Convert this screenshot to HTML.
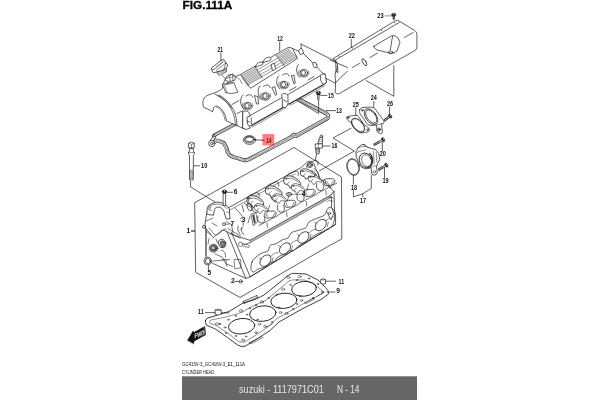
<!DOCTYPE html>
<html><head><meta charset="utf-8"><style>
html,body{margin:0;padding:0;background:#fff;width:600px;height:400px;overflow:hidden}
svg{position:absolute;left:0;top:0;display:block;will-change:transform}
svg text{font-family:"Liberation Sans",sans-serif}
</style></head><body>
<svg width="600" height="400" viewBox="0 0 600 400">
<!-- title -->
<text x="182.6" y="8.8" font-size="9.2" font-weight="bold" fill="#000" stroke="#000" stroke-width="0.25" textLength="49.6" lengthAdjust="spacingAndGlyphs" transform="translate(0,8.8) scale(1,1.1) translate(0,-8.8)">FIG.111A</text>

<g id="drawing" fill="none" stroke="#1c1c1c" stroke-width="0.7" stroke-linejoin="round" stroke-linecap="round">
<!-- BRACKET LINES -->
<path d="M301,44 L347.5,67.5 M301,44 L301.3,50.5"/>
<path d="M366.2,80.6 L393.8,96.3 L393.8,65.6"/>
<path d="M351,128.3 L333,138 L354.4,151 L319.5,170.8"/>
<path d="M195,202.5 L294,147.5 L341.5,177 L341.8,239 L330.5,245 L240,297.5 L196,272.5 Z"/>

<!-- PART 9 head gasket -->
<g>
<path fill="#fff" stroke-width="0.85" d="M205.5,320.4 Q206,318.6 208,318 L213,316.5 L222,313.6 L229,311.5 L243,303 L255,299.5 L264,295 L283.5,279.3 Q287,275.5 289.5,274.7 L292.5,273.3 L306,274 L318,280 L325.5,287.5 Q329,290.5 328.5,294 L321,299.5 L303,308.5 L289.5,316 L279,322 L270,330.5 L257.5,338.7 L245,346.3 Q241,347.2 237.5,345 L227.5,337.5 L215,328.8 L206.3,325 Q205,322.5 205.5,320.4 Z"/>
<path stroke-width="0.5" d="M209.5,322 Q209.5,320.3 211.5,319.8 L222.5,317.8 L234.6,314.6 L242.5,312.2 L249.2,307.9 L257,304.3 L266,300.3 L285,284.3 Q288,280.6 292,279.9 L304.5,280 L315,284.5 L322,290.5 Q323.5,292.2 322,293.5 L302,304.5 L277,318.5 L268,327 L256,335 L245.5,341.5 Q241.5,343 238.5,341.5 L229,334 L216.5,325.5 L210.5,323.5 Z"/>
<path d="M243.2,301.6 L256.8,295.5 M244.2,303.4 L257.6,297.3 M243.2,301.6 L244.2,303.4 M256.8,295.5 L257.6,297.3"/>
<ellipse cx="241.6" cy="326.2" rx="13.2" ry="7.7" transform="rotate(-6 241.6 326.2)" stroke-width="0.9"/>
<ellipse cx="262.8" cy="313.6" rx="13.2" ry="7.7" transform="rotate(-6 262.8 313.6)" stroke-width="0.9"/>
<ellipse cx="283.9" cy="300.8" rx="13.1" ry="7.6" transform="rotate(-6 283.9 300.8)" stroke-width="0.9"/>
<ellipse cx="304.0" cy="288.8" rx="12.4" ry="7.4" transform="rotate(-6 304.0 288.8)" stroke-width="0.9"/>
<g stroke-width="0.5">
<ellipse cx="240.8" cy="310.7" rx="1.6" ry="1.2"/>
<ellipse cx="225.0" cy="327.5" rx="0.9" ry="0.7"/>
<ellipse cx="259.4" cy="324.2" rx="1.3" ry="1.0"/>
<ellipse cx="256.0" cy="332.6" rx="1.3" ry="1.0"/>
<ellipse cx="243.0" cy="340.0" rx="1.5" ry="1.2"/>
<ellipse cx="265.0" cy="326.4" rx="1.4" ry="1.1"/>
<ellipse cx="235.6" cy="315.8" rx="0.8" ry="0.6"/>
<ellipse cx="247.0" cy="314.6" rx="0.8" ry="0.6"/>
<ellipse cx="256.0" cy="305.0" rx="0.8" ry="0.6"/>
<ellipse cx="249.8" cy="308.4" rx="0.8" ry="0.6"/>
<ellipse cx="228.4" cy="319.7" rx="0.8" ry="0.6"/>
<ellipse cx="235.8" cy="336.0" rx="0.8" ry="0.6"/>
<ellipse cx="262.0" cy="302.0" rx="1.6" ry="1.2"/>
<ellipse cx="283.0" cy="289.2" rx="1.6" ry="1.2"/>
<ellipse cx="277.0" cy="294.5" rx="0.8" ry="0.6"/>
<ellipse cx="268.5" cy="298.0" rx="0.8" ry="0.6"/>
<ellipse cx="290.5" cy="285.0" rx="0.8" ry="0.6"/>
<ellipse cx="280.5" cy="312.5" rx="1.3" ry="1.0"/>
<ellipse cx="286.5" cy="313.5" rx="1.4" ry="1.1"/>
<ellipse cx="301.5" cy="300.5" rx="1.3" ry="1.0"/>
<ellipse cx="297.0" cy="304.0" rx="0.8" ry="0.6"/>
<ellipse cx="257.5" cy="319.5" rx="0.8" ry="0.6"/>
<ellipse cx="279.0" cy="307.5" rx="0.8" ry="0.6"/>
<ellipse cx="300.0" cy="296.0" rx="0.8" ry="0.6"/>
<ellipse cx="318.0" cy="284.0" rx="0.8" ry="0.6"/>
<ellipse cx="297.0" cy="280.0" rx="0.8" ry="0.6"/>
<ellipse cx="309.0" cy="278.5" rx="0.8" ry="0.6"/>
<ellipse cx="220.0" cy="324.0" rx="0.8" ry="0.6"/>
<ellipse cx="226.0" cy="333.0" rx="0.8" ry="0.6"/>
<ellipse cx="246.0" cy="336.5" rx="0.8" ry="0.6"/>
<ellipse cx="272.0" cy="322.0" rx="0.8" ry="0.6"/>
<ellipse cx="293.0" cy="309.0" rx="0.8" ry="0.6"/>
<ellipse cx="313.0" cy="298.0" rx="0.8" ry="0.6"/>
<ellipse cx="322.5" cy="292.0" rx="1.2" ry="0.9"/>
<ellipse cx="288.3" cy="277.4" rx="1.8" ry="1.1"/>
<ellipse cx="299.5" cy="276.6" rx="1.8" ry="1.1"/>
<ellipse cx="217.2" cy="323.9" rx="1.9" ry="1.2"/>
<path d="M249.5,342.5 L261,336.8 Q262.8,336.5 262.3,338 L251,343.8 Q249,344.2 249.5,342.5 Z M305,302.6 L313.5,298 Q315,297.8 314.6,299 L306.2,303.6 Q304.6,304 305,302.6 Z M266.5,327 L272.5,323.8 M317,296.5 L324,292.5"/>
</g>
<!-- dowels -->
<path fill="#fff" d="M215.3,310 Q218.2,308.3 221.2,310 L221.2,314.3 Q218.2,316 215.3,314.3 Z"/>
<path d="M215.3,310 Q218.2,311.6 221.2,310" stroke-width="0.5"/>
<path d="M205.5,312.6 L215.2,312.6 M221.3,312.9 L229,312.9"/>
<path fill="#fff" d="M321,279.5 Q323.2,278 325.5,279.5 L325.5,283.5 Q323.2,285 321,283.5 Z"/>
<path d="M321,279.5 Q323.2,281 325.5,279.5" stroke-width="0.5"/>
<path d="M325.5,281.2 L335.5,281.2 M327,292 L335,292"/>
</g>

<!-- FWD arrow -->
<path fill="#111" stroke="#111" stroke-width="0.3" d="M187.4,340.3 L193,331.1 L194.1,332.3 L204.9,326.2 L205.8,334.7 L194.2,341.3 L193.6,343.8 Z"/>
<path d="M203.9,327.3 L204.6,333.9" stroke="#ddd" stroke-width="0.5"/>
<text x="0" y="0" font-size="6.6" font-weight="bold" fill="#fff" stroke="none" transform="translate(194.6,338.6) skewY(-24)" textLength="9.6" lengthAdjust="spacingAndGlyphs">FWD</text>

<!-- PART 10 bolt -->
<g>
<path fill="#fff" d="M188.8,143 Q191.5,141 194.2,143 L194.2,147.5 Q191.5,149 188.8,147.5 Z"/>
<path d="M188.8,143.6 Q191.5,145.2 194.2,143.6 M191.5,145 L191.5,148.3" stroke-width="0.5"/>
<path fill="#fff" d="M189.5,148.5 L193.4,148.5 L193.4,151.3 L194.2,152 L194.2,154.6 L193.4,155.3 L193.2,180 L189.6,180 L189.5,155.3 L188.6,154.6 L188.6,152 L189.5,151.3 Z"/>
<path d="M188.6,152.2 Q191.5,153.6 194.2,152.2" stroke-width="0.5"/>
<path stroke-width="0.4" d="M189.6,170.5 L193.2,170 M189.6,171.7 L193.2,171.2 M189.6,172.9 L193.2,172.4 M189.6,174.1 L193.2,173.6 M189.6,175.3 L193.2,174.8 M189.6,176.5 L193.2,176 M189.6,177.7 L193.2,177.2 M189.6,178.9 L193.2,178.4"/>
<path d="M190.5,181.5 L190.5,186.8 L214.5,201.8"/>
<path d="M193.5,165.8 L199.5,165.8"/>
</g>

<!-- CYL START -->
<g>
<path fill="#fff" d="M206,257 L206,230 L205,224.5 L206.5,214 L209,206.5 L214,203 L220,203 L225,206 L228,208 L294.6,171.1 L301.3,167.5 L306.3,162.5 C309,160.5 312,161 314,164 L316.3,170 L318.8,175 L320,178.8 L332.5,190 Q334.5,191.5 334,193 L334.5,210 L335.6,215 L335.5,224.5 L250.2,276.8 L245.7,278.3 L236,274 L224,268.5 L213,263.5 Z"/>
<path d="M250,240.3 L331,195 L334,191.3" stroke-width="0.8"/>
<path d="M250.6,242.4 L331.4,197.2" stroke-width="0.6"/>
<path d="M250.3,241.4 L331.2,196.1" stroke-width="0.35" stroke-dasharray="0.5 0.6"/>
<path stroke-width="0.5" d="M229,210.5 L295,173.8"/>
<path d="M250,240.3 L238,236.5 L230,233.5 M250.6,242.4 L244,245"/>
<path d="M331.4,197.2 L331.6,211"/>
<path d="M226.7,231 L245.7,278.3 M231.5,232.5 L250.2,276.8"/>
<path d="M250.2,276.8 L335.5,224.5"/>
<path fill="#fff" d="M252.0,262.0 C252.8,259.9 254.3,258.5 256.0,257.0 C257.7,255.5 260.0,254.0 262.0,253.0 C264.0,252.0 266.7,252.2 268.0,251.0 C269.3,249.8 268.8,246.7 270.0,245.5 C271.2,244.3 273.5,244.6 275.0,244.0 C276.5,243.4 277.7,242.8 279.0,242.0 C280.3,241.2 281.5,240.2 283.0,239.5 C284.5,238.8 286.7,239.1 288.0,238.0 C289.3,236.9 289.7,234.2 291.0,233.0 C292.3,231.8 294.3,231.6 296.0,231.0 C297.7,230.4 299.3,230.1 301.0,229.5 C302.7,228.9 304.7,228.8 306.0,227.5 C307.3,226.2 307.7,223.3 309.0,222.0 C310.3,220.7 312.3,220.2 314.0,219.5 C315.7,218.8 317.3,218.2 319.0,217.5 C320.7,216.8 322.7,216.6 324.0,215.5 C325.3,214.4 325.8,212.2 327.0,211.0 C328.2,209.8 329.8,208.6 331.0,208.5 C332.2,208.4 333.4,208.8 334.0,210.5 C334.6,212.2 334.8,216.4 334.5,219.0 C334.2,221.6 333.2,224.3 332.0,226.0 C330.8,227.7 329.2,228.0 327.5,229.0 C325.8,230.0 323.9,231.1 322.0,232.0 C320.1,232.9 317.8,233.5 316.0,234.5 C314.2,235.5 312.7,236.8 311.0,238.0 C309.3,239.2 307.8,240.8 306.0,242.0 C304.2,243.2 302.0,243.7 300.0,245.0 C298.0,246.3 295.8,249.0 294.0,250.0 C292.2,251.0 290.5,250.3 289.0,251.0 C287.5,251.7 286.8,253.0 285.0,254.0 C283.2,255.0 279.7,255.8 278.0,257.0 C276.3,258.2 276.3,260.0 275.0,261.0 C273.7,262.0 271.7,262.0 270.0,263.0 C268.3,264.0 267.0,266.0 265.0,267.0 C263.0,268.0 259.8,268.2 258.0,269.0 C256.2,269.8 255.2,271.9 254.0,272.0 C252.8,272.1 251.3,271.2 251.0,269.5 C250.7,267.8 251.2,264.1 252.0,262.0 Z"/>
<ellipse cx="265.5" cy="260.6" rx="6.6" ry="4.6" transform="rotate(-48 265.5 260.6)"/>
<path stroke-width="0.5" d="M271.0,256.1 q3,-3.5 7,-3.8 M259.0,257.6 l2.5,1.8 M272.0,262.1 l1,-4.5"/>
<ellipse cx="285.0" cy="248.5" rx="6.6" ry="4.6" transform="rotate(-48 285.0 248.5)"/>
<path stroke-width="0.5" d="M290.5,244.0 q3,-3.5 7,-3.8 M278.5,245.5 l2.5,1.8 M291.5,250.0 l1,-4.5"/>
<ellipse cx="303.5" cy="237.4" rx="6.6" ry="4.6" transform="rotate(-48 303.5 237.4)"/>
<path stroke-width="0.5" d="M309.0,232.9 q3,-3.5 7,-3.8 M297.0,234.4 l2.5,1.8 M310.0,238.9 l1,-4.5"/>
<ellipse cx="320.8" cy="225.0" rx="6.6" ry="4.6" transform="rotate(-48 320.8 225.0)"/>
<path stroke-width="0.5" d="M326.3,220.5 q3,-3.5 7,-3.8 M314.3,222.0 l2.5,1.8 M327.3,226.5 l1,-4.5"/>
<path d="M326.5,210.5 Q329,205.5 332,208 L333.8,213.5 L331,219.5 Z" fill="#fff"/>
<circle cx="329.6" cy="213.4" r="1.1"/>
<path stroke-width="0.5" d="M327,202 Q330,199 333,201.5 M329,197.5 Q331.5,196 333.5,198"/>
<path stroke-width="0.7" d="M265.0,216.0 Q263.5,212.5 267.0,211.2 L273.5,211.0 Q276.8,211.4 276.0,214.6 Q275.0,217.6 271.0,217.8 L267.0,218.2 Z"/>
<path stroke-width="0.55" d="M266.5,213.5 Q266.0,216.0 268.0,216.6 M274.5,213.2 Q274.2,215.6 272.8,216.2"/>
<ellipse cx="254.5" cy="208.0" rx="2.8" ry="5.2" transform="rotate(-28 254.5 208.0)" stroke-width="0.7"/>
<path stroke-width="0.7" d="M258.0,216.0 Q256.5,222.0 261.0,223.0 Q264.5,223.5 265.0,219.0 L264.0,216.0"/>
<path stroke-width="0.6" d="M259.0,225.5 L278.0,215.5 M267.0,223.0 L267.5,227.5 M250.0,216.0 L248.0,223.0"/>
<path stroke-width="0.7" d="M248.0,200.0 Q247.0,195.0 252.0,194.5 L257.0,192.5 Q260.0,193.0 259.0,197.0"/>
<path stroke-width="0.7" d="M284.6,205.2 Q283.1,201.7 286.6,200.4 L293.1,200.2 Q296.4,200.6 295.6,203.8 Q294.6,206.8 290.6,207.0 L286.6,207.4 Z"/>
<path stroke-width="0.55" d="M286.1,202.7 Q285.6,205.2 287.6,205.8 M294.1,202.4 Q293.8,204.8 292.4,205.4"/>
<ellipse cx="274.1" cy="197.2" rx="2.8" ry="5.2" transform="rotate(-28 274.1 197.2)" stroke-width="0.7"/>
<path stroke-width="0.7" d="M277.6,205.2 Q276.1,211.2 280.6,212.2 Q284.1,212.7 284.6,208.2 L283.6,205.2"/>
<path stroke-width="0.6" d="M278.6,214.7 L297.6,204.7 M286.6,212.2 L287.1,216.7 M269.6,205.2 L267.6,212.2"/>
<path stroke-width="0.7" d="M267.6,189.2 Q266.6,184.2 271.6,183.7 L276.6,181.7 Q279.6,182.2 278.6,186.2"/>
<path stroke-width="0.7" d="M304.2,194.4 Q302.7,190.9 306.2,189.6 L312.7,189.4 Q316.0,189.8 315.2,193.0 Q314.2,196.0 310.2,196.2 L306.2,196.6 Z"/>
<path stroke-width="0.55" d="M305.7,191.9 Q305.2,194.4 307.2,195.0 M313.7,191.6 Q313.4,194.0 312.0,194.6"/>
<ellipse cx="293.7" cy="186.4" rx="2.8" ry="5.2" transform="rotate(-28 293.7 186.4)" stroke-width="0.7"/>
<path stroke-width="0.7" d="M297.2,194.4 Q295.7,200.4 300.2,201.4 Q303.7,201.9 304.2,197.4 L303.2,194.4"/>
<path stroke-width="0.6" d="M298.2,203.9 L317.2,193.9 M306.2,201.4 L306.7,205.9 M289.2,194.4 L287.2,201.4"/>
<path stroke-width="0.7" d="M287.2,178.4 Q286.2,173.4 291.2,172.9 L296.2,170.9 Q299.2,171.4 298.2,175.4"/>
<path stroke-width="0.7" d="M323.8,183.6 Q322.3,180.1 325.8,178.8 L332.3,178.6 Q335.6,179.0 334.8,182.2 Q333.8,185.2 329.8,185.4 L325.8,185.8 Z"/>
<path stroke-width="0.55" d="M325.3,181.1 Q324.8,183.6 326.8,184.2 M333.3,180.8 Q333.0,183.2 331.6,183.8"/>
<ellipse cx="313.3" cy="175.6" rx="2.8" ry="5.2" transform="rotate(-28 313.3 175.6)" stroke-width="0.7"/>
<path stroke-width="0.7" d="M316.8,183.6 Q315.3,189.6 319.8,190.6 Q323.3,191.1 323.8,186.6 L322.8,183.6"/>
<path stroke-width="0.6" d="M317.8,193.1 L336.8,183.1 M325.8,190.6 L326.3,195.1 M308.8,183.6 L306.8,190.6"/>
<path stroke-width="0.7" d="M306.8,167.6 Q305.8,162.6 310.8,162.1 L315.8,160.1 Q318.8,160.6 317.8,164.6"/>
<path fill="#fff" stroke-width="0.6" d="M251.3,214 L255.8,212.5 L257.5,222 L253.5,225.5 Z"/>
<path fill="#444" stroke="none" d="M252.2,214.8 L254.2,214.2 L255.8,222.5 L254,223.8 Z"/>
<path fill="#fff" stroke-width="0.80" d="M247.2,198.4 Q247.8,196.4 249.7,195.8 Q253.2,194.8 257.2,196.8 L262.0,200.2 Q264.4,202.6 263.5,205.0 L259.2,204.2 Q256.0,203.2 255.4,207.0 L253.2,207.8 Q252.8,204.6 249.6,204.0 L247.8,203.6 Q246.3,201.0 247.2,198.4 Z"/>
<path stroke-width="0.55" d="M249.4,198.6 Q253.2,196.8 257.2,199.0 L261.7,202.0 M250.2,204.0 L252.7,201.4"/>
<circle cx="249.2" cy="198.0" r="0.9" stroke-width="0.45"/>
<path fill="#fff" stroke-width="0.80" d="M265.6,188.6 Q266.2,186.6 268.1,186.0 Q271.6,185.0 275.6,187.0 L280.4,190.4 Q282.8,192.8 281.9,195.2 L277.6,194.4 Q274.4,193.4 273.8,197.2 L271.6,198.0 Q271.2,194.8 268.0,194.2 L266.2,193.8 Q264.7,191.2 265.6,188.6 Z"/>
<path stroke-width="0.55" d="M267.8,188.8 Q271.6,187.0 275.6,189.2 L280.1,192.2 M268.6,194.2 L271.1,191.6"/>
<circle cx="267.6" cy="188.2" r="0.9" stroke-width="0.45"/>
<path fill="#fff" stroke-width="0.80" d="M284.0,178.7 Q284.6,176.7 286.5,176.1 Q290.0,175.1 294.0,177.1 L298.8,180.5 Q301.2,182.9 300.3,185.3 L296.0,184.5 Q292.8,183.5 292.2,187.3 L290.0,188.1 Q289.6,184.9 286.4,184.3 L284.6,183.9 Q283.1,181.3 284.0,178.7 Z"/>
<path stroke-width="0.55" d="M286.2,178.9 Q290.0,177.1 294.0,179.3 L298.5,182.3 M287.0,184.3 L289.5,181.7"/>
<circle cx="286.0" cy="178.3" r="0.9" stroke-width="0.45"/>
<path fill="#fff" stroke-width="0.55" d="M254.5,206.0 Q255.0,204.4 256.5,203.9 Q259.3,203.1 262.5,204.7 L266.3,207.4 Q268.3,209.4 267.5,211.3 L264.1,210.6 Q261.5,209.8 261.1,212.9 L259.3,213.5 Q259.0,211.0 256.4,210.5 L255.0,210.2 Q253.8,208.1 254.5,206.0 Z"/>
<path stroke-width="0.55" d="M256.3,206.2 Q259.3,204.7 262.5,206.5 L266.1,208.9 M256.9,210.5 L258.9,208.4"/>
<circle cx="256.1" cy="205.7" r="0.7" stroke-width="0.45"/>
<path fill="#fff" stroke-width="0.55" d="M273.0,196.0 Q273.5,194.4 275.0,193.9 Q277.8,193.1 281.0,194.7 L284.8,197.4 Q286.8,199.4 286.0,201.3 L282.6,200.6 Q280.0,199.8 279.6,202.9 L277.8,203.5 Q277.5,201.0 274.9,200.5 L273.5,200.2 Q272.3,198.1 273.0,196.0 Z"/>
<path stroke-width="0.55" d="M274.8,196.2 Q277.8,194.7 281.0,196.5 L284.6,198.9 M275.4,200.5 L277.4,198.4"/>
<circle cx="274.6" cy="195.7" r="0.7" stroke-width="0.45"/>
<path fill="#fff" stroke-width="0.55" d="M291.5,186.0 Q292.0,184.4 293.5,183.9 Q296.3,183.1 299.5,184.7 L303.3,187.4 Q305.3,189.4 304.5,191.3 L301.1,190.6 Q298.5,189.8 298.1,192.9 L296.3,193.5 Q296.0,191.0 293.4,190.5 L292.0,190.2 Q290.8,188.1 291.5,186.0 Z"/>
<path stroke-width="0.55" d="M293.3,186.2 Q296.3,184.7 299.5,186.5 L303.1,188.9 M293.9,190.5 L295.9,188.4"/>
<circle cx="293.1" cy="185.7" r="0.7" stroke-width="0.45"/>
<path fill="#fff" stroke-width="0.55" d="M308.5,177.0 Q309.0,175.4 310.5,174.9 Q313.3,174.1 316.5,175.7 L320.3,178.4 Q322.3,180.4 321.5,182.3 L318.1,181.6 Q315.5,180.8 315.1,183.9 L313.3,184.5 Q313.0,182.0 310.4,181.5 L309.0,181.2 Q307.8,179.1 308.5,177.0 Z"/>
<path stroke-width="0.55" d="M310.3,177.2 Q313.3,175.7 316.5,177.5 L320.1,179.9 M310.9,181.5 L312.9,179.4"/>
<circle cx="310.1" cy="176.7" r="0.7" stroke-width="0.45"/>
<path fill="#fff" stroke-width="0.75" d="M206.8,213.8 L207.3,207.5 Q209,204.3 212,203.6 Q215,202 218,202.1 Q222,202.6 224.8,204.3 Q228.2,206.4 229.4,209 L230,218.8 L226.3,219 L224.9,215 Q224.3,210.6 222.5,209.1 Q220.5,207 218.8,207 Q216.5,207 215.6,207.8 Q214.4,209.2 214.1,211.4 L213.5,215.2 L210.4,214.8 Z"/>
<path stroke-width="0.5" d="M208.8,206.6 Q213.5,203.6 218.8,204.1 Q223.8,205 227.2,208.6 M208.4,209.5 L211.5,210.5 M226.5,212 L229.5,212.5"/>
<circle cx="209.6" cy="207.8" r="1" stroke-width="0.45"/>
<path fill="#fff" stroke-width="0.75" d="M300.6,171.2 Q301.1,169.5 302.7,169.0 Q305.7,168.1 309.1,169.8 L313.2,172.7 Q315.2,174.8 314.5,176.8 L310.8,176.1 Q308.1,175.3 307.6,178.5 L305.7,179.2 Q305.4,176.5 302.6,176.0 L301.1,175.6 Q299.8,173.4 300.6,171.2 Z"/>
<path stroke-width="0.55" d="M302.5,171.4 Q305.7,169.8 309.1,171.7 L312.9,174.3 M303.2,176.0 L305.3,173.8"/>
<circle cx="302.3" cy="170.9" r="0.8" stroke-width="0.45"/>
<circle cx="310" cy="165" r="2.6" fill="#fff"/><circle cx="310" cy="165" r="1.4"/>
<path stroke-width="0.6" d="M314,168.5 L318,172.5 L319,178.5 M321,180 Q325,179 327.5,182.5 L331,188"/>
<path stroke-width="0.65" d="M235,208.2 L238.2,211.2 L242.6,216.4 L240.6,219 M242,205 L243.8,212 M244.2,203.2 L250,207 M248,197 L249,203 M238,226 Q236.4,231 240,234.2 M241.6,228 Q240.6,232 243.6,234.6"/>
<ellipse cx="249.6" cy="207.2" rx="2.2" ry="4" transform="rotate(-25 249.6 207.2)" stroke-width="0.65"/>
<path stroke-width="0.6" d="M205.5,228 L213,237 M206,231 L211,235 M206,229 L206,256 M209,228 C212,231 213.5,234.5 215,235 C217,235.5 219,233 220,233 L223,230 L226,229 M213,238 L222,230 M206,221 L213,218 M212,223 L217,226 M223,230 L240,238 M228,228.5 L240.5,236"/>
<path stroke-width="0.6" d="M215,254 L222,257 L226,264 L233,266.5 M221,250.5 C223,250 226,252 225.5,257 M226,221.5 L231.5,224.5 L233,233 M209,238.5 L208,244 M216,239 L217.5,243"/>
<circle cx="204" cy="226.8" r="1.5" fill="#fff" stroke-width="0.8"/>
<circle cx="240.5" cy="244.3" r="2.2" stroke-width="0.55"/><path stroke-width="0.5" d="M243,243.5 L249.5,245.5 L249,247.5 L243.5,246.5"/>
<path stroke-width="0.55" d="M234.5,259.5 L240.5,259.5 L241,268 L235,268.5 Z M222.5,259.5 L226,259.5 L226.5,266"/>
<ellipse cx="213.6" cy="248.2" rx="4.2" ry="4" fill="#fff" stroke-width="0.7"/>
<ellipse cx="213.6" cy="248.2" rx="3.3" ry="3.1" fill="#555" stroke-width="0.3"/>
<ellipse cx="213.2" cy="247.8" rx="1.7" ry="1.6" fill="#bbb" stroke="none"/>
<ellipse cx="222.2" cy="243.5" rx="3.6" ry="4.4" transform="rotate(-20 222.2 243.5)" fill="#fff" stroke-width="0.7"/>
<ellipse cx="222.6" cy="243.9" rx="2.5" ry="3.3" transform="rotate(-20 222.6 243.9)" fill="#666" stroke-width="0.3"/>
<path stroke="#ddd" stroke-width="0.4" d="M221,241.5 L224.5,245 M221.3,243.5 L223.5,246"/>
<circle cx="224" cy="224.2" r="1.5"/><path d="M225.5,224.2 L229.4,224.2" stroke-width="0.5"/>
<ellipse cx="289" cy="194.3" rx="2.6" ry="1.9" fill="#fff"/><path d="M289,192.4 L289,196.2 M286.4,194.3 L291.6,194.3" stroke-width="0.4"/>
<path d="M291.6,194.3 L301.5,194.3" stroke-width="0.5"/>
<path stroke-width="0.6" d="M241,221 L243.5,223 L243,226 M242.5,227.5 L240,229.5"/>
<path d="M229.5,259.5 L212.8,261.1" stroke-width="0.6"/>
<path d="M191.4,231 L194.6,231"/>
</g>
<!-- CYL END -->
<!-- bolt 6 -->
<g>
<path fill="#222" stroke-width="0.4" d="M222.3,191.3 Q222.5,189.7 224.5,189.7 Q226.6,189.7 226.7,191.3 Q226.5,193.2 225.6,193.8 L223.4,193.8 Q222.4,193.2 222.3,191.3 Z"/>
<path fill="#fff" stroke="none" d="M223.8,190.2 L225.2,190.2 L224.5,192.2 Z"/>
<path fill="#fff" d="M223.5,193.5 L225.6,193.5 L225.6,205.5 L223.5,205.5 Z"/>
<path d="M226.6,192.3 L232.5,192.3"/>
</g>
<!-- seal 5 -->
<ellipse cx="207.6" cy="261" rx="3.6" ry="3.9" fill="#fff"/>
<ellipse cx="207.9" cy="261" rx="2.4" ry="2.7"/>
<path d="M208.4,265 L208.4,270"/>
<!-- part 2 -->
<path d="M235,281.5 L238.5,281.5"/>
<circle cx="240.7" cy="281.5" r="1.7" fill="#fff"/>
<path d="M239.5,281.5 L242,281.5" stroke-width="0.5"/>
<path d="M191.4,231 L194.6,231"/>

<!-- PART 13 gasket (drawn first, behind cover) -->
<g>
<path d="M213.8,135.6 L297,91.2" stroke="#222" stroke-width="3.4"/>
<path d="M213.8,135.6 L297,91.2" stroke="#fff" stroke-width="2.1"/>
<path d="M213.8,135.6 L297,91.2" stroke="#555" stroke-width="2.1" stroke-dasharray="0.5 0.65" stroke-linecap="butt"/>
<path d="M300.5,100.3 L326.3,113.4 Q329.5,115.8 327.6,118.2 L296,136 L293.6,134.8 L291.4,137 L259.1,154 L249,159.3 Q246.5,160.6 243.5,160 L239.2,158.6 Q232,157 229.6,155 L227.6,152 Q226.3,146 223.6,142.8 Q220,140.9 215.5,140.4" stroke="#222" stroke-width="3.9"/>
<path d="M300.5,100.3 L326.3,113.4 Q329.5,115.8 327.6,118.2 L296,136 L293.6,134.8 L291.4,137 L259.1,154 L249,159.3 Q246.5,160.6 243.5,160 L239.2,158.6 Q232,157 229.6,155 L227.6,152 Q226.3,146 223.6,142.8 Q220,140.9 215.5,140.4" stroke="#fff" stroke-width="2.6"/>
<path d="M300.5,100.3 L326.3,113.4 Q329.5,115.8 327.6,118.2 L296,136 L293.6,134.8 L291.4,137 L259.1,154 L249,159.3 Q246.5,160.6 243.5,160 L239.2,158.6 Q232,157 229.6,155 L227.6,152 Q226.3,146 223.6,142.8 Q220,140.9 215.5,140.4" stroke="#555" stroke-width="2.6" stroke-dasharray="0.5 0.65" stroke-linecap="butt"/>
<circle cx="211.8" cy="143.5" r="3.2" fill="#fff"/>
<circle cx="211.8" cy="143.5" r="1.3"/>
<path d="M210.5,140.5 L214.5,134 M213.5,141.5 L216,136"/>
</g>

<!-- PART 14 o-ring -->
<ellipse cx="249.5" cy="140" rx="6.2" ry="4.4" fill="#fff"/>
<ellipse cx="249.5" cy="139.6" rx="5" ry="3.3"/>
<ellipse cx="249.5" cy="139.4" rx="4" ry="2.4"/>
<path d="M255.7,140 L262.5,140"/>

<!-- PART 21 filler cap -->
<path fill="#fff" stroke-width="0.6" d="M216.8,71.6 L226.3,68.2 L226.5,71.8 L219.2,75.6 Q217.3,74.8 216.8,71.6 Z"/>
<path stroke="#444" stroke-width="0.4" d="M217.5,72.4 L226.3,69.2 M217.9,73.4 L226.4,70.2 M218.4,74.4 L226.4,71.2"/>
<path fill="#fff" stroke-width="0.75" d="M211.9,67.7 L220.3,60.9 Q222,59.4 223.8,59.7 L227.4,64.6 L227.5,66.5 L223.6,70 L213.9,72.7 Q212.4,72.3 212.1,71 Z"/>
<path stroke-width="0.55" d="M214.4,69.2 L223.4,61.8 M216.4,70.3 L225.6,63.1 M212.2,69.8 L214.3,69.3 M223.6,70 L225.6,63.1"/>
<path stroke-width="0.4" stroke-dasharray="0.5 0.7" d="M216,67.2 L222.6,61.6"/>
<path d="M222.3,75.4 L227.4,80.8" stroke-dasharray="1 0.8"/>
<path d="M220.9,52.8 L220.9,60.6"/>

<!-- PART 15 bolt -->
<path fill="#222" stroke-width="0.4" d="M316.2,92.5 Q316.4,90.9 318.4,90.9 Q320.5,90.9 320.6,92.5 Q320.4,94.4 319.5,95 L317.3,95 Q316.3,94.4 316.2,92.5 Z"/>
<path fill="#fff" stroke="none" d="M317.7,91.4 L319.1,91.4 L318.4,93.4 Z"/>
<path d="M317.6,94.6 L317.8,99.8 L318.8,99.8 L319.3,94.6"/>
<path d="M318.6,100 L318.6,113.6 L287.3,94.6"/>
<path d="M320.7,95.4 L327,95.4"/>
<path d="M326.3,110.6 L335.6,110.6"/>

<!-- PART 16 spark plug -->
<g fill="#fff">
<ellipse cx="321.4" cy="136.2" rx="1.3" ry="1.2"/>
<path d="M319.8,137.6 L322.6,137.4 L322.4,143.8 L318.3,144 Z"/>
<path d="M315.5,144 L322.4,143.8 L322.4,148 L315.8,148.4 Z"/>
<path d="M316,148.3 L319.4,148.2 L319.2,153.6 L316.6,153.8 Z"/>
</g>
<path stroke-width="0.4" d="M318.6,139.5 L322.5,139.3 M318.5,141.5 L322.4,141.3 M316,149.5 L319.3,149.4 M316.1,150.7 L319.3,150.6 M316.2,151.9 L319.3,151.8 M318.3,144 L318.4,148.2"/>
<path d="M316.6,153.9 L315.3,160"/>
<path d="M322.4,146 L330.2,146"/>

<!-- PART 12 head cover -->
<path fill="#fff" d="M203.5,106.8 L202.8,104 C202.6,99 205,96 210,94.4 C214,93 218,92 220.5,90 L222.8,88 L222.8,84.3 L225.5,79 L228,75.5 L232.5,74.4 L235.4,76.5 L240.5,74.5 L288,47.6 Q290.5,47 292.5,48.5 L298.5,51 L301,50 L303.5,53.5 L312.5,62.5 L322.5,73 L325,73.8 L326.3,82.8 L244.5,129 L237,125.5 L226.5,121 C226,115 222,108 217,106 C215,106 213.8,107 213.5,108.5 L212.5,112 L210.5,110.5 Z"/>
<!-- dome thick arc -->
<path d="M219,95 C226,99 231,104 234.5,112 C236,116 237,121 237,125.5" stroke-width="0.7"/>
<path d="M217.6,95.6 C224.5,99.6 229.4,104.6 232.8,112.4 C234.3,116.4 235.3,121 235.4,125" stroke-width="0.6"/>
<path d="M215,94 C222,97.5 228,102 231.5,108"/>
<!-- journal bearing double -->
<path d="M216.5,107.2 C220.5,108.5 224,113 225,120.3" stroke-width="0.5"/>
<!-- ridge -->
<path d="M240.5,74.5 L250.5,88.3 L297.5,58.5 L292.5,48.5"/>
<path stroke-width="0.45" d="M241.3,75.9 L255.7,67.8 M276.7,55.9 L289.1,48.9 M242.0,77.1 L256.5,69.0 M277.6,57.1 L290.1,50.0 M242.7,78.3 L257.2,70.2 M278.5,58.2 L291.0,51.1 M243.4,79.5 L258.0,71.3 M279.4,59.3 L292.0,52.2 M244.1,80.7 L258.8,72.5 M280.3,60.4 L292.9,53.3 M244.8,81.9 L259.6,73.7 M281.1,61.5 L293.9,54.4 M245.5,83.1 L260.3,74.8 M282.0,62.6 L294.8,55.4 M246.2,84.3 L261.1,76.0 M282.9,63.8 L295.8,56.5 M246.9,85.4 L261.8,77.0 M283.7,64.8 L296.6,57.5 M257.1,69.9 L278.3,57.9 M258.6,72.3 L280.1,60.2 M260.2,74.6 L281.8,62.4 M261.6,76.7 L283.4,64.4 M254.8,66.4 L262.5,78.1 M275.6,54.6 L284.5,65.8"/>
<!-- humps on ridge -->
<path fill="#fff" d="M255.5,66.8 Q256,63.5 258.5,62.6 L261.5,61.9 Q263.5,62.5 262.8,64.2 Z"/>
<path fill="#fff" d="M263,62.3 Q263.8,58.6 266.5,57.7 L269.5,57 Q271.5,57.6 270.8,59.3 L270.2,60.2 Z"/>
<path fill="#fff" d="M271.5,64.5 L274.3,63 L275.6,68.8 Q274.5,71 272.8,70.6 Z"/>
<!-- filler neck -->
<path fill="#fff" stroke-width="0.65" d="M225.5,79 L228,75.5 L232.5,74.4 L235.4,76.5 L235,80 L230,81.5 L226.5,81 Z"/>
<path stroke-width="0.5" d="M226.3,78.2 L233.8,76.6 M229,75.3 L230.2,80.8 M232.5,74.5 L233,80.5"/>
<path fill="#fff" stroke-width="0.65" d="M222.8,84.3 L233.6,82 L237.8,92.4 Q232,94.5 226,92.8 Z"/>
<path stroke-width="0.5" d="M224.5,85.6 L227,92.4 M224.8,84.8 L233,83.2 M235.4,76.5 L240,79.5 L242,83.5"/>
<path fill="#333" stroke="none" d="M226.8,82.6 L228.6,82.2 L228.8,83.4 L227,83.7 Z"/>
<!-- front face -->
<path d="M242.8,111.5 L243,128.5 M249.6,115.9 L282.3,97.4 M251.3,118 L251.3,124 M287.5,94.8 L321.8,74.8"/>
<path d="M251.3,126 L284.5,106.9 M289,104.3 L324,84.5" stroke-width="0.9"/>
<path d="M252.3,127.2 L285.5,108.1 M290,105.5 L325,85.7" stroke-width="0.4" stroke-dasharray="0.6 0.6"/>
<!-- front bosses -->
<path fill="#fff" d="M243,112 C244,110.5 247,110.5 249,112.5 L250.5,116 L247,117 L247.5,124 L250.5,128 L246,129.5 L243,128 Z"/>
<path fill="#fff" d="M281.8,94.5 C283,93 286,93 287.9,95 L288,104 L285.5,108 L282.5,107 L282.3,99 Z"/>
<path fill="#fff" d="M320.5,75 C322,73.5 324.5,73.5 325.5,75.5 L326.3,82.8 L323,84.5 L321,81 Z"/>
<path d="M283.5,100 l3,1.5 M247,121 l2.5,1"/>
<!-- spark plug wells -->
<g>
<path stroke-width="0.55" d="M243.1,103.1 A5.3,4.4 0 1 0 252.4,103.8"/><ellipse cx="247.6" cy="105.6" rx="3.8" ry="3.4" stroke-width="0.75"/><ellipse cx="247.2" cy="105.7" rx="2.1" ry="2.4" stroke-width="0.6"/>
<path stroke-width="0.55" d="M261.0,93.5 A5.3,4.4 0 1 0 270.3,94.2"/><ellipse cx="265.5" cy="96.0" rx="3.8" ry="3.4" stroke-width="0.75"/><ellipse cx="265.1" cy="96.1" rx="2.1" ry="2.4" stroke-width="0.6"/>
<path stroke-width="0.55" d="M279.5,82.0 A5.3,4.4 0 1 0 288.8,82.7"/><ellipse cx="284.0" cy="84.5" rx="3.8" ry="3.4" stroke-width="0.75"/><ellipse cx="283.6" cy="84.6" rx="2.1" ry="2.4" stroke-width="0.6"/>
<path stroke-width="0.55" d="M299.3,70.3 A5.3,4.4 0 1 0 308.6,71.0"/><ellipse cx="303.8" cy="72.8" rx="3.8" ry="3.4" stroke-width="0.75"/><ellipse cx="303.4" cy="72.9" rx="2.1" ry="2.4" stroke-width="0.6"/>
<path d="M243,95 C239.5,98 239.5,106 244.3,109.5 M260,86 C257,89 257.5,97 261.5,100 M278.8,75.8 C275.5,78.5 276,86.5 280,89 M298.5,64.5 C295.5,67 296,75 300,77.5"/>
<path d="M246,96 C249,93.5 252.5,95 252.5,97 M263.5,86.5 C266.5,84 270,85 270,87.5 M282.5,75 C285.5,72.5 289,73.5 289,76"/>
<path d="M254.5,96 L256.5,104 L258.5,104 L258,97 Z M272,88 L275.5,95.5 L276.5,94.5 L275,87 Z M291.5,76 L294,84 L295.3,83 L294,75.5 Z"/>
<path d="M232,104.5 L239,100.5 M237,113.5 L243,110.5 M289.5,90.5 L296,87 M308,80 L314,76.5"/>
</g>
<!-- bolt bosses top right -->
<path fill="#fff" d="M298.8,50.8 L300.5,48.5 L302.5,49.2 L303.5,53.5 L300.5,54.5 Z"/>
<ellipse cx="315" cy="65" rx="1.8" ry="3" transform="rotate(-25 315 65)" fill="#fff"/>

<!-- PART 22 heat cover -->
<path fill="#fff" d="M333.4,58.4 L395.6,20.6 Q397.5,19.6 399.6,21.3 L414.8,30.6 Q416.9,32 416.9,34.5 L416.9,48 Q416.5,50 414.4,50.8 L338.8,93.8 Q335.6,94.5 335.2,92 L335.6,82.5 L335,75 L336,70 L335.6,60.6 Q333,60.5 333.4,58.4 Z"/>
<path d="M334.8,60.4 L399.4,22.4"/>
<path d="M351.25,39.4 L351.25,47.6 M279.7,42 L279.7,51"/>
<path d="M338.5,55.8 l0.8,0.6 M352,47.6 l0.8,0.6 M381,30 l0.8,0.6 M394.4,22.3 l0.8,0.6"/>
<path d="M352.5,67.5 L360,63.1 M370,57.5 L377.5,53.1 M404.4,37.5 L413.1,32.5"/>
<ellipse cx="364.4" cy="62.2" rx="1.6" ry="4" transform="rotate(-30 364.4 62.2)"/>
<path d="M373.8,46.3 L391.9,35.6 Q395.5,35 398.1,38.1 L400,42.5 L397,51 Q395,53.5 390.6,53.2 L377,50 Q373.8,48.6 373.8,46.3 Z"/>
<path d="M392.5,36.3 L390.3,50"/>
<ellipse cx="390.6" cy="52.4" rx="2.3" ry="1.4"/>
<path d="M336,61 L337.5,65 L336.5,72 L338,72.5 L337.5,66"/>

<!-- PART 25 gasket -->
<path fill="#fff" d="M346.9,117.1 Q348.5,115.8 351.8,115.8 L356.1,115.4 Q357.5,115.4 358.3,116.3 L363.6,124.1 L366.6,126.3 Q369.5,128 369.3,129.8 Q369,131.5 368.4,131.6 L363.1,132.9 Q360,133 358.3,132 L353.5,127.6 L351.3,122.8 L347.4,119.8 Q346.2,118.5 346.9,117.1 Z"/>
<ellipse cx="358.1" cy="125.2" rx="4.8" ry="8.4" transform="rotate(-43 358.1 125.2)"/>
<ellipse cx="358.1" cy="125.2" rx="4.2" ry="7.8" transform="rotate(-43 358.1 125.2)" stroke-width="0.4"/>
<circle cx="348.4" cy="117.7" r="0.8"/><circle cx="367.6" cy="129.7" r="0.8"/>
<path d="M355.8,107.7 L355.8,115.4 M373.8,101.3 L373.8,107.4 M389.6,106.8 L389.6,114"/>
<!-- PART 24 flange -->
<path fill="#fff" d="M359.6,109.7 Q360.5,107.8 362.7,107.5 L369.3,107.1 L373.2,107.5 Q375.5,108.5 376.7,111 L383.7,120.6 Q384.5,122.5 383.3,123.7 L381.5,123.7 L382.4,132 Q382,134 380.7,133.8 L378,132.5 Q376.5,131 376.7,129.4 L376.7,125 L371,125.5 Q368,125 366.6,123.3 L363.1,118 L360,113.6 Q359,111.5 359.6,109.7 Z"/>
<ellipse cx="371" cy="116.6" rx="5.3" ry="9" transform="rotate(-36 371 116.6)"/>
<ellipse cx="371.3" cy="116.6" rx="4.2" ry="7.6" transform="rotate(-36 371.3 116.6)"/>
<path d="M361.5,110.6 L363.5,110 M376.7,125 L381.5,123.7" stroke-width="0.5"/>
<circle cx="362.3" cy="110.4" r="0.9" stroke-width="0.5"/>
<circle cx="379" cy="129.6" r="1.6"/><circle cx="379" cy="129.6" r="0.7"/>
<!-- PART 26 bolt -->
<g transform="translate(390,116.2) rotate(143)">
<path fill="#333" d="M0,-2 L-1,-2 Q-2.2,0 -1,2 L0,2 L0.6,1.8 Q1.5,0 0.6,-1.8 Z"/><path stroke="#fff" stroke-width="0.35" d="M-1.2,-0.9 L-0.2,0 L-1.2,0.9"/>
<path fill="#fff" d="M0.8,-0.8 L7.2,-0.8 L7.2,0.8 L0.8,0.8 Z"/>
<path stroke-width="0.4" d="M2.5,-0.8 L2.2,0.8 M3.5,-0.8 L3.2,0.8 M4.5,-0.8 L4.2,0.8 M5.5,-0.8 L5.2,0.8 M6.5,-0.8 L6.2,0.8"/>
</g>
<!-- PART 18 o-ring -->
<ellipse cx="353.1" cy="167" rx="6.2" ry="8.4" transform="rotate(-15 353.1 167)"/>
<ellipse cx="353.1" cy="167" rx="5.5" ry="7.7" transform="rotate(-15 353.1 167)" stroke-width="0.5"/>
<path d="M353.4,175.4 L353.4,184.3 M353.4,190.5 L353.4,196.9 L362.8,193.8 L371.3,188.4 L371.3,175.3 M362.8,193.8 L362.8,197"/>
<!-- PART 17 housing -->
<path fill="#fff" stroke-width="0.75" d="M356,152 L358.2,147.6 L361.5,144.8 L364.3,144.3 L367.2,147.1 L371.5,148.5 L375.5,149.5 L378.8,153.5 L379.7,159.5 L377.5,163.5 L376.6,166.5 L377.3,172.5 Q376.6,175.2 374.4,175.2 L372,174.3 L371,167.5 Q368,169.2 364.5,168.6 Q360,167.5 358.5,162.5 L356.5,157.5 Z"/>
<path stroke-width="0.5" d="M358.2,147.6 L364.5,146.2 L367.2,147.1 M364.5,146.2 L364.3,144.3 M359,151.5 L366,149.8 M356.5,153 L359,151.5 M373.2,151.5 L374.3,163.5 M376.2,152.5 L376.8,161.8 M371,167.5 L374.5,165.5 L376.6,166.5"/>
<ellipse cx="365.6" cy="160.3" rx="6.2" ry="7.5" transform="rotate(-25 365.6 160.3)" fill="#fff" stroke-width="0.8"/>
<ellipse cx="366.5" cy="160.6" rx="4.6" ry="6.2" transform="rotate(-25 366.5 160.6)" stroke-width="0.55"/>
<path d="M369.5,153.6 Q373.3,156.5 372.4,162.5 Q371.3,166.3 368.3,167.4" stroke-width="1.3" stroke="#333"/>
<circle cx="374.4" cy="171.8" r="1.2" stroke-width="0.5"/>
<!-- PART 20 bolt -->
<g transform="translate(383,139.7) rotate(150.3)">
<path fill="#333" d="M0,-2 L-1,-2 Q-2.2,0 -1,2 L0,2 L0.6,1.8 Q1.5,0 0.6,-1.8 Z"/><path stroke="#fff" stroke-width="0.35" d="M-1.2,-0.9 L-0.2,0 L-1.2,0.9"/>
<path fill="#fff" d="M0.8,-0.8 L10.4,-0.8 L10.4,0.8 L0.8,0.8 Z"/>
<path stroke-width="0.4" d="M5,-0.8 L4.7,0.8 M6,-0.8 L5.7,0.8 M7,-0.8 L6.7,0.8 M8,-0.8 L7.7,0.8 M9,-0.8 L8.7,0.8 M10,-0.8 L9.7,0.8"/>
</g>
<path d="M382.3,141.8 L382.3,150.8"/>
<!-- PART 19 bolt -->
<g transform="translate(386.2,165.2) rotate(149)">
<path fill="#333" d="M0,-2 L-1,-2 Q-2.2,0 -1,2 L0,2 L0.6,1.8 Q1.5,0 0.6,-1.8 Z"/><path stroke="#fff" stroke-width="0.35" d="M-1.2,-0.9 L-0.2,0 L-1.2,0.9"/>
<path fill="#fff" d="M0.8,-0.8 L9,-0.8 L9,0.8 L0.8,0.8 Z"/>
<path stroke-width="0.4" d="M4,-0.8 L3.7,0.8 M5,-0.8 L4.7,0.8 M6,-0.8 L5.7,0.8 M7,-0.8 L6.7,0.8 M8,-0.8 L7.7,0.8"/>
</g>
<path d="M384.5,167.5 L384.5,178.2"/>

<path d="M330,60 L347.5,67.5 M326.3,78.5 L335,83.1 L347.5,71.2"/>
<!-- PART 23 bolt -->
<path d="M385,15.9 L391.6,15.9" stroke-width="0.5"/>
<path fill="#222" stroke-width="0.4" d="M391.7,14.6 Q392,13 393.8,13 Q395.7,13 395.9,14.6 Q395.8,16.2 394.6,16.8 L393,16.8 Q391.8,16.2 391.7,14.6 Z"/>
<path fill="#fff" stroke="none" d="M393.1,13.6 L394.5,13.6 L393.8,15 Z"/>
<path fill="#444" stroke-width="0.3" d="M393,16.7 L394.7,16.7 L394.6,19.4 L393.1,19.4 Z"/>
</g>

<!-- labels -->
<g font-size="6.6" font-weight="bold" fill="#111">
<text x="377.2" y="18.1" textLength="6.4" lengthAdjust="spacingAndGlyphs">23</text>
<text x="348.7" y="37.8" textLength="6.2" lengthAdjust="spacingAndGlyphs">22</text>
<text x="217.4" y="52" textLength="5.6" lengthAdjust="spacingAndGlyphs">21</text>
<text x="277.2" y="40.7" textLength="5.6" lengthAdjust="spacingAndGlyphs">12</text>
<text x="328.1" y="97.8" textLength="5.6" lengthAdjust="spacingAndGlyphs">15</text>
<text x="336.3" y="112.5" textLength="5.6" lengthAdjust="spacingAndGlyphs">13</text>
<text x="370.8" y="100.2" textLength="6" lengthAdjust="spacingAndGlyphs">24</text>
<text x="352.8" y="106.8" textLength="6" lengthAdjust="spacingAndGlyphs">25</text>
<text x="387" y="106.2" textLength="6" lengthAdjust="spacingAndGlyphs">26</text>
<text x="331.5" y="148.2" textLength="5.8" lengthAdjust="spacingAndGlyphs">16</text>
<text x="379.7" y="156" textLength="6.2" lengthAdjust="spacingAndGlyphs">20</text>
<text x="382.5" y="182.8" textLength="6.2" lengthAdjust="spacingAndGlyphs">19</text>
<text x="351" y="189.8" textLength="6" lengthAdjust="spacingAndGlyphs">18</text>
<text x="360" y="202.5" textLength="6" lengthAdjust="spacingAndGlyphs">17</text>
<text x="201" y="168" textLength="6.4" lengthAdjust="spacingAndGlyphs">10</text>
<text x="233.7" y="194.3">6</text>
<text x="301.8" y="195.9">4</text>
<text x="230.4" y="226">7</text>
<text x="241.8" y="221.8">3</text>
<text x="186.6" y="233">1</text>
<text x="207.5" y="275.2">5</text>
<text x="231.1" y="283.4">2</text>
<text x="198" y="313.8" textLength="5.6" lengthAdjust="spacingAndGlyphs">11</text>
<text x="338.5" y="283.8" textLength="5.6" lengthAdjust="spacingAndGlyphs">11</text>
<text x="336.3" y="293">9</text>
</g>
<!-- 14 red box -->
<text x="265.9" y="142.6" font-size="6.6" font-weight="bold" fill="#111" textLength="5.6" lengthAdjust="spacingAndGlyphs">14</text>
<path d="M262,140.4 L264.6,140.4" stroke="#1c1c1c" stroke-width="0.7"/>
<rect x="262.5" y="134" width="11.8" height="11.5" fill="rgba(255,0,0,0.5)"/>

<!-- captions -->
<text x="182" y="366.3" font-size="5" fill="#111" textLength="63" lengthAdjust="spacingAndGlyphs">GC415V-3_GC416V-3_E1_111A</text>
<text x="182" y="373.9" font-size="5" fill="#111" textLength="32" lengthAdjust="spacingAndGlyphs">CYLINDER HEAD</text>

<!-- grey bar -->
<rect x="182" y="376.3" width="235" height="23.7" fill="#666"/>
<text x="239" y="392.9" font-size="10.1" fill="#e8e8e8" textLength="84.8" lengthAdjust="spacingAndGlyphs">suzuki - 1117971C01</text>
<text x="336.9" y="392.9" font-size="10.1" fill="#e8e8e8" textLength="22.6" lengthAdjust="spacingAndGlyphs">N - 14</text>
</svg>
</body></html>
